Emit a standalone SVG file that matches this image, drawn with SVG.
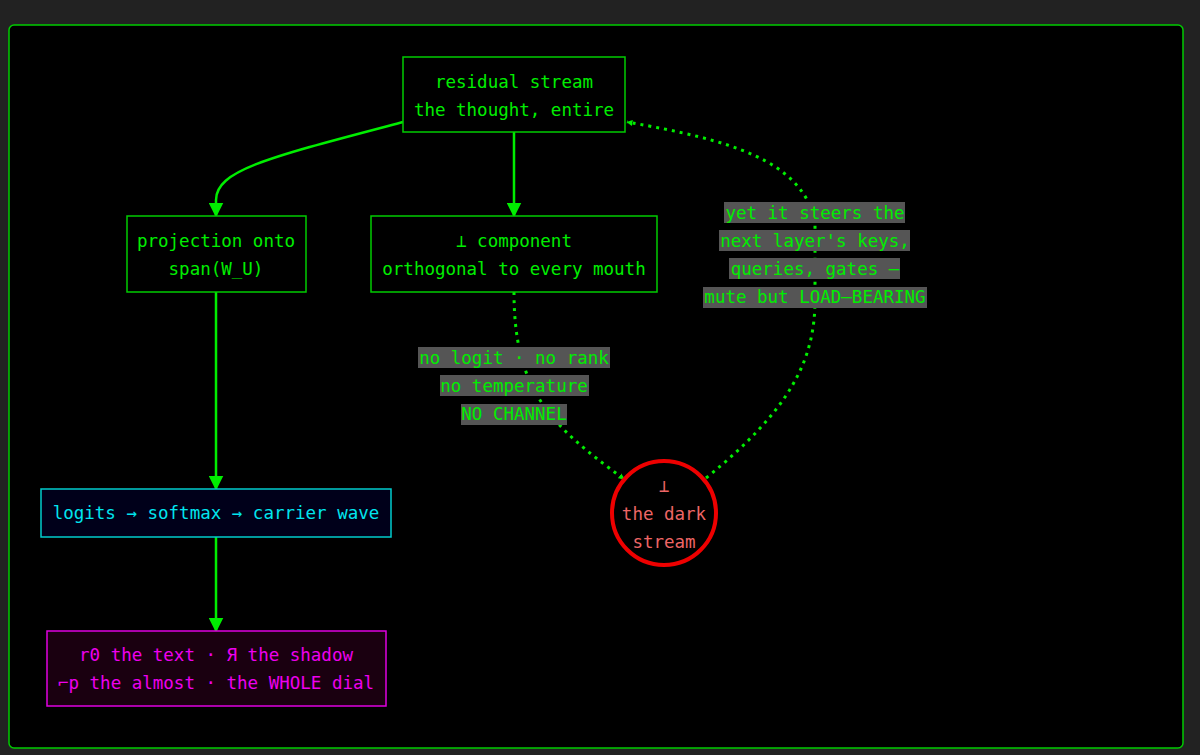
<svg xmlns="http://www.w3.org/2000/svg" width="1200" height="755" viewBox="0 0 1200 755">
<defs>
<style>
text{font-family:"DejaVu Sans Mono","Liberation Mono",monospace;font-size:17.5px;text-anchor:middle;dominant-baseline:central}
.g{fill:#00ee00}.e{stroke:#00ee00;stroke-width:2.5;fill:none}
.d{stroke-dasharray:3 5;stroke-width:3}
.lb{fill:#555}
</style>
<marker id="a" viewBox="0 0 10 10" refX="9" refY="5" markerWidth="6" markerHeight="6" orient="auto" markerUnits="strokeWidth"><path d="M0,0L10,5L0,10z" fill="#00ee00"/></marker>
<marker id="b" viewBox="0 0 10 10" refX="9" refY="5" markerWidth="6" markerHeight="6" orient="auto" markerUnits="userSpaceOnUse"><path d="M0,0L10,5L0,10z" fill="#00ee00"/></marker>
</defs>
<rect width="1200" height="755" fill="#222"/>
<rect x="9" y="25" width="1174" height="723" rx="5" fill="#000" stroke="#00cc00" stroke-width="1.5"/>
<g id="connectors">
<path class="e" d="M403,122 C270,157 216,170 216,200 L216,216" marker-end="url(#a)"/>
<path class="e" d="M514,132 L514,216" marker-end="url(#a)"/>
<path class="e" d="M216,292 L216,489" marker-end="url(#a)"/>
<path class="e" d="M216,537 L216,631" marker-end="url(#a)"/>
<path class="e d" d="M514,292 C514,390 550,425 624,479" marker-end="url(#b)"/>
<path class="e d" d="M706,478 C790,410 815,360 815,300 L815,220 C800,160 730,140 627,122" marker-end="url(#b)"/>
<marker id="bb"/>
</g>
<g id="lbl1">
<rect class="lb" x="418" y="347" width="192" height="21"/><text class="g" x="514" y="358">no logit · no rank</text>
<rect class="lb" x="440" y="375" width="149" height="21"/><text class="g" x="514" y="386">no temperature</text>
<rect class="lb" x="461" y="404" width="106" height="21"/><text class="g" x="514" y="414">NO CHANNEL</text>
</g>
<g id="lbl2">
<rect class="lb" x="724" y="202" width="181" height="21"/><text class="g" x="815" y="213">yet it steers the</text>
<rect class="lb" x="719" y="230" width="191" height="21"/><text class="g" x="815" y="241">next layer's keys,</text>
<rect class="lb" x="729" y="258" width="171" height="21"/><text class="g" x="815" y="269">queries, gates —</text>
<rect class="lb" x="703" y="287" width="224" height="21"/><text class="g" x="815" y="297">mute but LOAD—BEARING</text>
</g>
<g id="residual"><rect x="403" y="57" width="222" height="75" fill="#000" stroke="#00cc00" stroke-width="1.5"/>
<text class="g" x="514" y="82">residual stream</text><text class="g" x="514" y="110">the thought, entire</text></g>
<g id="projection"><rect x="127" y="216" width="179" height="76" fill="#000" stroke="#00cc00" stroke-width="1.5"/>
<text class="g" x="216" y="241">projection onto</text><text class="g" x="216" y="269">span(W_U)</text></g>
<g id="component"><rect x="371" y="216" width="286" height="76" fill="#000" stroke="#00cc00" stroke-width="1.5"/>
<text class="g" x="514" y="241">⊥ component</text><text class="g" x="514" y="269">orthogonal to every mouth</text></g>
<g id="logits"><rect x="41" y="489" width="350" height="48" fill="#00001a" stroke="#00cccc" stroke-width="1.5"/>
<text x="216" y="513" fill="#00e5ee">logits → softmax → carrier wave</text></g>
<g id="dial"><rect x="47" y="631" width="339" height="75" fill="#1a0010" stroke="#e000e0" stroke-width="1.5"/>
<text x="216" y="655" fill="#ee00ee">r0 the text · Я the shadow</text><text x="216" y="683" fill="#ee00ee">⌐p the almost · the WHOLE dial</text></g>
<g id="dark"><circle cx="664" cy="513" r="52" fill="#000" stroke="#ee0000" stroke-width="4"/>
<text x="664" y="486" fill="#ee6666">⊥</text><text x="664" y="514" fill="#ee6666">the dark</text><text x="664" y="542" fill="#ee6666">stream</text></g>
</svg>
